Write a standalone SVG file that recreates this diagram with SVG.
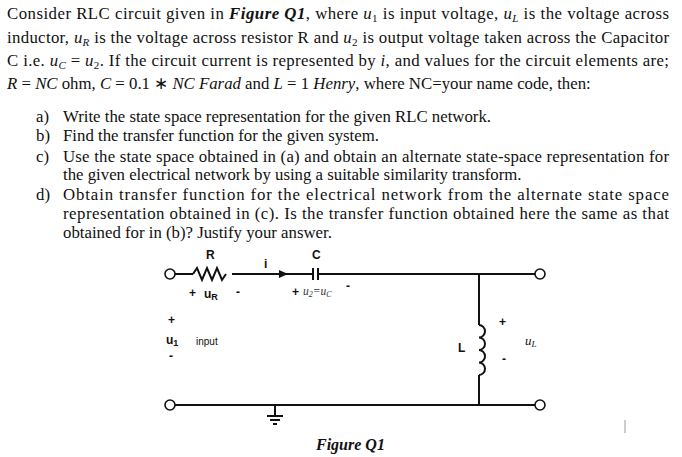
<svg xmlns="http://www.w3.org/2000/svg" width="682" height="457" viewBox="0 0 682 457">
<style>
.t{font-family:"Liberation Serif",serif;font-size:16.8px;fill:#111}
.s{font-family:"Liberation Sans",sans-serif;font-weight:bold;font-size:12px;fill:#111}
.w{stroke:#111;stroke-width:2;fill:none}
.term{stroke:#111;stroke-width:1.6;fill:#fff}
</style>
<rect width="682" height="457" fill="#fff"/>
<g id="text">
<text class="t" x="7" y="19" textLength="662" lengthAdjust="spacing">Consider RLC circuit given in <tspan font-weight="bold" font-style="italic">Figure Q1</tspan>, where <tspan font-style="italic">u</tspan><tspan font-size="11" dy="3">1</tspan><tspan dy="-3"> is input voltage, </tspan><tspan font-style="italic">u</tspan><tspan font-size="11" font-style="italic" dy="3">L</tspan><tspan dy="-3"> is the voltage across</tspan></text>
<text class="t" x="7" y="43" textLength="662" lengthAdjust="spacing">inductor, <tspan font-style="italic">u</tspan><tspan font-size="11" font-style="italic" dy="3">R</tspan><tspan dy="-3"> is the voltage across resistor R and  </tspan><tspan font-style="italic">u</tspan><tspan font-size="11" dy="3">2</tspan><tspan dy="-3"> is output voltage taken across the Capacitor</tspan></text>
<text class="t" x="7" y="66" textLength="662" lengthAdjust="spacing">C i.e. <tspan font-style="italic">u</tspan><tspan font-size="11" font-style="italic" dy="3">C</tspan><tspan dy="-3"> = </tspan><tspan font-style="italic">u</tspan><tspan font-size="11" dy="3">2</tspan><tspan dy="-3">. If the circuit current is represented by </tspan><tspan font-style="italic">i</tspan>, and values for the circuit elements are;</text>
<text class="t" x="7" y="89"><tspan font-style="italic">R</tspan> = <tspan font-style="italic">NC</tspan> ohm, <tspan font-style="italic">C</tspan> = 0.1 ∗ <tspan font-style="italic">NC Farad</tspan> and <tspan font-style="italic">L</tspan> = 1  <tspan font-style="italic">Henry</tspan>, where NC=your name code, then:</text>
<text class="t" x="36" y="122">a)</text><text class="t" x="63" y="122">Write the state space representation for the given RLC network.</text>
<text class="t" x="36" y="141">b)</text><text class="t" x="63" y="141">Find the transfer function for the given system.</text>
<text class="t" x="36" y="162">c)</text><text class="t" x="63" y="162" textLength="606" lengthAdjust="spacing">Use the state space obtained in (a) and obtain an alternate state-space representation for</text>
<text class="t" x="63" y="180">the given electrical network by using a suitable similarity transform.</text>
<text class="t" x="36" y="200">d)</text><text class="t" x="63" y="200" textLength="606" lengthAdjust="spacing">Obtain transfer function for the electrical network from the alternate state space</text>
<text class="t" x="63" y="219" textLength="606" lengthAdjust="spacing">representation obtained in (c). Is the transfer function obtained here the same as that</text>
<text class="t" x="63" y="238">obtained for in (b)? Justify your answer.</text>
</g>
<g id="connectors">
<path class="w" d="M175 274H193M232 274H313M318 274H535M479 274V325M479 375V405M175 405H535M275 405V416"/>
<path class="w" d="M193 274l4-6l5 12l5-12l5 12l5-12l5 12l4-6"/>
<path fill="#111" d="M288 274l-9-4v8z"/>
<path class="w" d="M313 268V280M318 268V280"/>
<path class="w" d="M479 325a6 6.25 0 0 1 0 12.5a6 6.25 0 0 1 0 12.5a6 6.25 0 0 1 0 12.5a6 6.25 0 0 1 0 12.5"/>
<path class="w" stroke-width="1.5" d="M267 416H283M270 420H280M273 424H277"/>
</g>
<g id="terminals">
<circle class="term" cx="170" cy="274" r="5"/>
<circle class="term" cx="170" cy="405" r="5"/>
<circle class="term" cx="540" cy="274" r="5"/>
<circle class="term" cx="540" cy="405" r="5"/>
</g>
<g id="labels">
<text class="s" x="206" y="259" font-size="13">R</text>
<text class="s" x="312" y="259" font-size="13">C</text>
<text class="s" x="264" y="268" font-size="13">i</text>
<text class="s" x="189" y="297">+</text>
<text class="s" x="204" y="298">u<tspan font-size="9" dy="2">R</tspan></text>
<text class="s" x="236" y="296">-</text>
<text class="s" x="292" y="296" font-size="10">+</text>
<text x="303" y="295" font-family="Liberation Serif,serif" font-style="italic" font-size="11.5" fill="#333">u<tspan font-size="8" dy="2">2</tspan><tspan dy="-2">=</tspan>u<tspan font-size="8" dy="2">C</tspan></text>
<text class="s" x="346" y="290">-</text>
<text class="s" x="168" y="324">+</text>
<text class="s" x="166" y="344" font-size="13">u<tspan font-size="9" dy="2">1</tspan></text>
<text class="s" x="169" y="360">-</text>
<text x="196" y="345" font-family="Liberation Sans,sans-serif" font-size="10" fill="#111">input</text>
<text class="s" x="458" y="352" font-size="13">L</text>
<text class="s" x="499" y="326">+</text>
<text x="525" y="345" font-family="Liberation Serif,serif" font-style="italic" font-size="13" fill="#111">u<tspan font-size="9" dy="2">L</tspan></text>
<text class="s" x="502" y="363">-</text>
<text x="316" y="450" font-family="Liberation Serif,serif" font-style="italic" font-weight="bold" font-size="16" fill="#111">Figure Q1</text>
<path d="M625 420V433" stroke="#999" stroke-width="1"/>
</g>
</svg>
